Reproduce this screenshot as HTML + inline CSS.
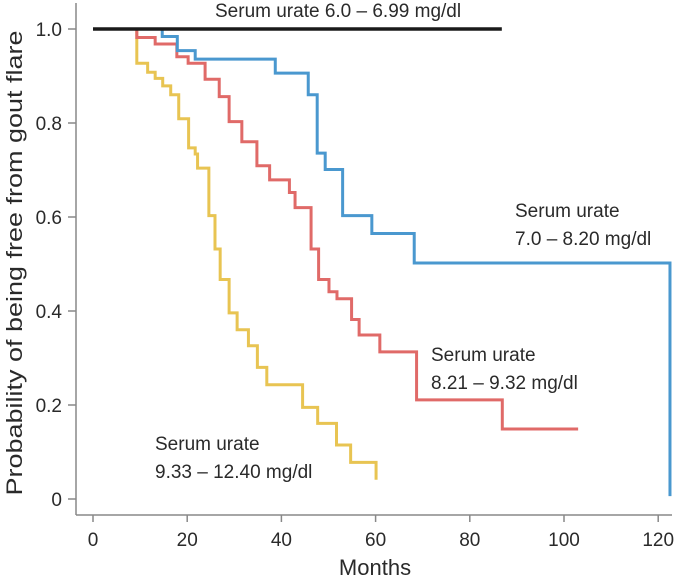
<!DOCTYPE html>
<html><head><meta charset="utf-8"><style>
body{margin:0;background:#fff;}
svg text{font-family:"Liberation Sans",sans-serif;fill:#2a2a2a;}
</style></head><body>
<svg id="chart" width="685" height="578" xmlns="http://www.w3.org/2000/svg"></svg>
<script>
const xTicks=[0,20,40,60,80,100,120];
const yTicks=[0,0.2,0.4,0.6,0.8,1.0];
const yTickLabels=["0","0.2","0.4","0.6","0.8","1.0"];
const blackT=[0,86.8];const blackS=[1,1];
const blueT=[0,14.7,17.9,21.7,38.7,45.7,47.6,49.3,53,59.2,68.2,122.5,122.5];
const blueS=[1,0.984,0.954,0.936,0.906,0.86,0.736,0.701,0.603,0.565,0.502,0.502,0.006];
const redT=[9.3,9.3,13.2,17.8,20.2,23.8,26.8,28.9,31.6,34.8,37.5,41.7,42.9,46.3,47.9,50.1,51.8,54.9,56.5,60.9,68.7,86.9,103];
const redS=[1,0.982,0.968,0.941,0.927,0.893,0.856,0.803,0.76,0.709,0.679,0.652,0.62,0.532,0.467,0.441,0.426,0.382,0.349,0.313,0.211,0.149,0.149];
const yelT=[9.3,9.3,11.6,13.2,14.8,16.5,18.2,20.3,21.7,22.2,24.6,25.9,27.0,28.9,30.6,33,34.9,36.9,44.5,47.7,51.7,54.7,60.1,60.1];
const yelS=[1,0.927,0.908,0.895,0.879,0.86,0.809,0.747,0.734,0.704,0.603,0.532,0.467,0.396,0.36,0.326,0.28,0.243,0.195,0.161,0.115,0.078,0.078,0.041];
const X=m=>93+m*4.71, Y=v=>499-v*470;
const svg=document.getElementById('chart');const NS='http://www.w3.org/2000/svg';
function mk(t,a,p){const e=document.createElementNS(NS,t);for(const k in a)e.setAttribute(k,a[k]);(p||svg).appendChild(e);return e;}
let e=mk('line',{x1:76,y1:3,x2:76,y2:515,stroke:'#888','stroke-width':1.5});


e=mk('line',{x1:76,y1:515,x2:672,y2:515,stroke:'#888','stroke-width':1.5});


xTicks.forEach(t=>{mk('line',{x1:X(t),y1:515,x2:X(t),y2:522,stroke:'#888','stroke-width':1.5});
 e=mk('text',{x:X(t),y:546,'text-anchor':'middle','font-size':19});e.textContent=t;
 
 });
yTicks.forEach((t,i)=>{mk('line',{x1:68,y1:Y(t),x2:76,y2:Y(t),stroke:'#888','stroke-width':1.5});
 e=mk('text',{x:62,y:Y(t)+7,'text-anchor':'end','font-size':19});e.textContent=yTickLabels[i];
 
 });
function step(T,S,c,name,w){let d='M'+X(T[0])+','+Y(S[0]);for(let i=1;i<T.length;i++){d+='H'+X(T[i])+'V'+Y(S[i]);}
 const p=mk('path',{d:d,fill:'none',stroke:c,'stroke-width':w||3});
 
 }
step(yelT,yelS,'#e8c452','curve-9-33-12-40');
step(redT,redS,'#e06a68','curve-8-21-9-32');
step(blueT,blueS,'#4a98cf','curve-7-0-8-20');
step(blackT,blackS,'#1a1a1a','curve-6-0-6-99',3.5);
function lab(x,y,lines,name){const t=mk('text',{x:x,y:y,'font-size':19});
 
 
 lines.forEach((l,i)=>{const s=mk('tspan',{x:x,dy:i?28:0},t);s.textContent=l;});}
lab(215,17,['Serum urate 6.0 – 6.99 mg/dl'],'label-6-0-6-99');
lab(515,217,['Serum urate','7.0 – 8.20 mg/dl'],'label-7-0-8-20');
lab(431,361,['Serum urate','8.21 – 9.32 mg/dl'],'label-8-21-9-32');
lab(155,450,['Serum urate','9.33 – 12.40 mg/dl'],'label-9-33-12-40');
e=mk('text',{x:375,y:575,'text-anchor':'middle','font-size':22});e.textContent='Months';


e=mk('text',{x:0,y:0,'text-anchor':'middle','font-size':22,textLength:465,lengthAdjust:'spacingAndGlyphs',transform:'translate(22,263) rotate(-90)'});e.textContent='Probability of being free from gout flare';


</script>
</body></html>
